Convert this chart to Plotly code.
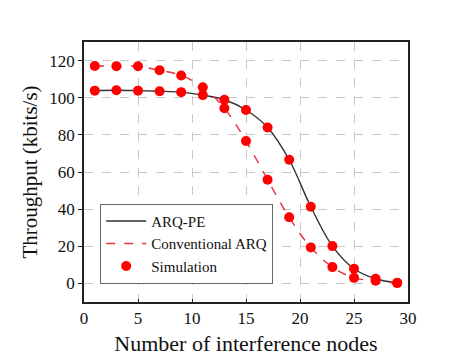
import plotly.graph_objects as go

x_nodes = [1, 3, 5, 7, 9, 11, 13, 15, 17, 19, 21, 23, 25, 27, 29]
arq_pe = [103.8, 104, 103.8, 103.5, 103, 101.4, 98.9, 93.4, 84, 66.6, 41.3, 20.1, 7.9, 2.5, 0.3]
conv_arq = [117.1, 117, 116.9, 114.8, 112, 105.6, 94.3, 76.7, 55.8, 35.6, 19.4, 8.8, 3.0, 1.4, 0.2]

x_ticks = [0, 5, 10, 15, 20, 25, 30]
y_ticks = [0, 20, 40, 60, 80, 100, 120]

font = "Liberation Serif, Times New Roman, serif"
red = "#ff0000"

fig = go.Figure()
fig.add_trace(go.Scatter(x=x_nodes, y=arq_pe, mode="lines", name="ARQ-PE",
                         line=dict(color="#333333", width=1.4, shape="spline")))
fig.add_trace(go.Scatter(x=x_nodes, y=conv_arq, mode="lines", name="Conventional ARQ",
                         line=dict(color="#e8303a", width=1.4, dash="dash", shape="spline")))
fig.add_trace(go.Scatter(x=x_nodes, y=arq_pe, mode="markers", name="Simulation",
                         legendgroup="sim",
                         marker=dict(color=red, size=10)))
fig.add_trace(go.Scatter(x=x_nodes, y=conv_arq, mode="markers", name="Simulation",
                         legendgroup="sim", showlegend=False,
                         marker=dict(color=red, size=10)))

axis_common = dict(showline=True, linecolor="#222222", linewidth=1.5, mirror=True,
                   showgrid=True, gridcolor="#c8c8c8", griddash="dash", gridwidth=1,
                   zeroline=False, tickcolor="#222222", automargin=False)

fig.update_xaxes(range=[0, 30], tickvals=x_ticks, ticks="inside", ticklen=3,
                 tickfont=dict(family=font, size=17, color="#111111"),
                 title=dict(text="Number of interference nodes",
                            font=dict(family=font, size=22, color="#111111"), standoff=8),
                 **axis_common)
fig.update_yaxes(range=[-10, 130], tickvals=y_ticks, ticks="outside", ticklen=4,
                 tickfont=dict(family=font, size=17, color="#111111"),
                 title=dict(text="Throughput (kbits/s)",
                            font=dict(family=font, size=21, color="#111111"), standoff=6),
                 **axis_common)

# page body has an 8px default margin, so the figure is offset by 8px
fig.update_layout(
    width=466, height=355,
    margin=dict(l=76, r=66, t=34, b=61),
    paper_bgcolor="white", plot_bgcolor="white",
    font=dict(family=font, color="#111111"),
    showlegend=True,
    legend=dict(x=0.05, y=0.07, xanchor="left", yanchor="bottom",
                bordercolor="#666666", borderwidth=1, bgcolor="white",
                font=dict(family=font, size=15, color="#111111"),
                tracegroupgap=0, itemwidth=40),
)

fig.write_html("out.html")
